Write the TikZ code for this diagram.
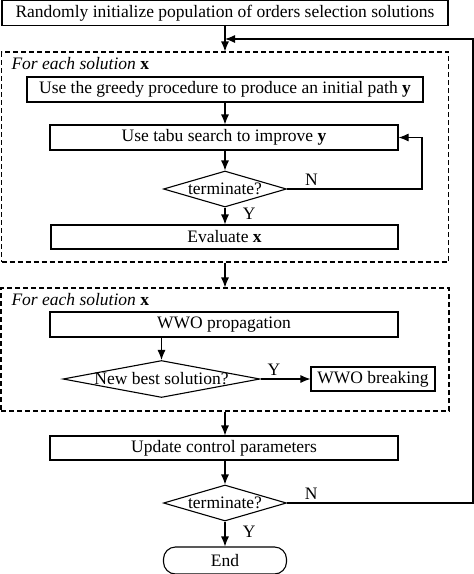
\documentclass[tikz,border=0pt]{standalone}
\usepackage{fontspec}
\setmainfont{Liberation Serif}
\usepackage{tikz}
\usetikzlibrary{shapes,arrows.meta}
\tikzstyle{block} = [draw, line width=1.1pt, rectangle, minimum height=24pt, inner sep=0pt, text centered]
\tikzstyle{decision} = [draw, line width=1.1pt, diamond, inner sep=0pt, minimum width=123pt, minimum height=36pt]
\tikzstyle{loopbox} = [draw, line width=1.1pt, dash pattern=on 5pt off 3pt, rectangle, inner sep=0pt]
\tikzstyle{ends} = [draw, line width=1.1pt, rectangle, rounded corners=12pt, inner sep=0pt]
\tikzset{
  line/.style ={draw, line width=1.1pt, -{Latex[length=10pt,width=8pt]}, shorten >=0pt}
}

\begin{document}
\begin{tikzpicture}[x=1pt,y=-1pt,font=\fontsize{17.5}{20}\selectfont]
	\useasboundingbox (0,0) rectangle (474,574);
	% outer nodes
	\node (init) [block, minimum width=446pt, minimum height=25pt] at (225,13) {Randomly initialize population of orders selection solutions};
	\node (loopA) [loopbox, minimum width=447pt, minimum height=210pt] at (225,157) {};
	\node (loopB) [loopbox, minimum width=448pt, minimum height=123pt] at (225,349.5) {};
	\node (forA) [anchor=west] at (8,64) {\textit{For each solution} \textbf{x}};
	\node (forB) [anchor=west] at (8,300) {\textit{For each solution} \textbf{x}};
	% first loop
	\node (greedy) [block, minimum width=396pt, minimum height=25pt] at (225,89.5) {Use the greedy procedure to produce an initial path \textbf{y}};
	\node (tabu) [block, minimum width=348pt, minimum height=25pt] at (224,137.5) {Use tabu search to improve \textbf{y}};
	\node (termA) [decision, label={center:terminate?}] at (225,189) {};
	\node (eval) [block, minimum width=347pt] at (224.5,237) {Evaluate \textbf{x}};
	% second loop
	\node (prop) [block, minimum width=348pt, minimum height=25pt] at (224,324.5) {WWO propagation};
	\node (best) [decision, minimum width=197pt, minimum height=37pt, label={center:New best solution?}] at (161.5,379) {};
	\node (brk) [block, minimum width=124pt] at (373,379) {WWO breaking};
	% bottom
	\node (update) [block, minimum width=348pt] at (224,448) {Update control parameters};
	\node (termB) [decision, label={center:terminate?}] at (225,503) {};
	\node (end) [ends, minimum width=123pt, minimum height=27pt] at (225,560.5) {End};
	\coordinate (join) at (225,39);
	% connectors
	\path [line] (init.south -| loopA.north) -- (loopA.north);
	\path [line] (greedy.south) -- (tabu.north -| greedy.south);
	\path [line] (tabu.south -| termA.north) -- (termA.north);
	\path [line] (termA.east) -- node[above, pos=0.18] {N} (422,189) |- (tabu.east);
	\path [line] (termA.south) -- node[right, xshift=14pt, yshift=2pt] {Y} (eval.north -| termA.south);
	\path [line] (loopA.south) -- (loopB.north);
	\path [line] (best.north |- prop.south) -- (best.north);
	\path [line] (best.east) -- node[above, pos=0.27] {Y} (brk.west);
	\path [line] (loopB.south) -- (update.north -| loopB.south);
	\path [line] (update.south -| termB.north) -- (termB.north);
	\path [line] (termB.south) -- node[right, xshift=14pt, yshift=2pt] {Y} (end.north);
	\path [line] (termB.east) -- node[above, pos=0.13] {N} (473,503) |- (join);
\end{tikzpicture}
\end{document}
